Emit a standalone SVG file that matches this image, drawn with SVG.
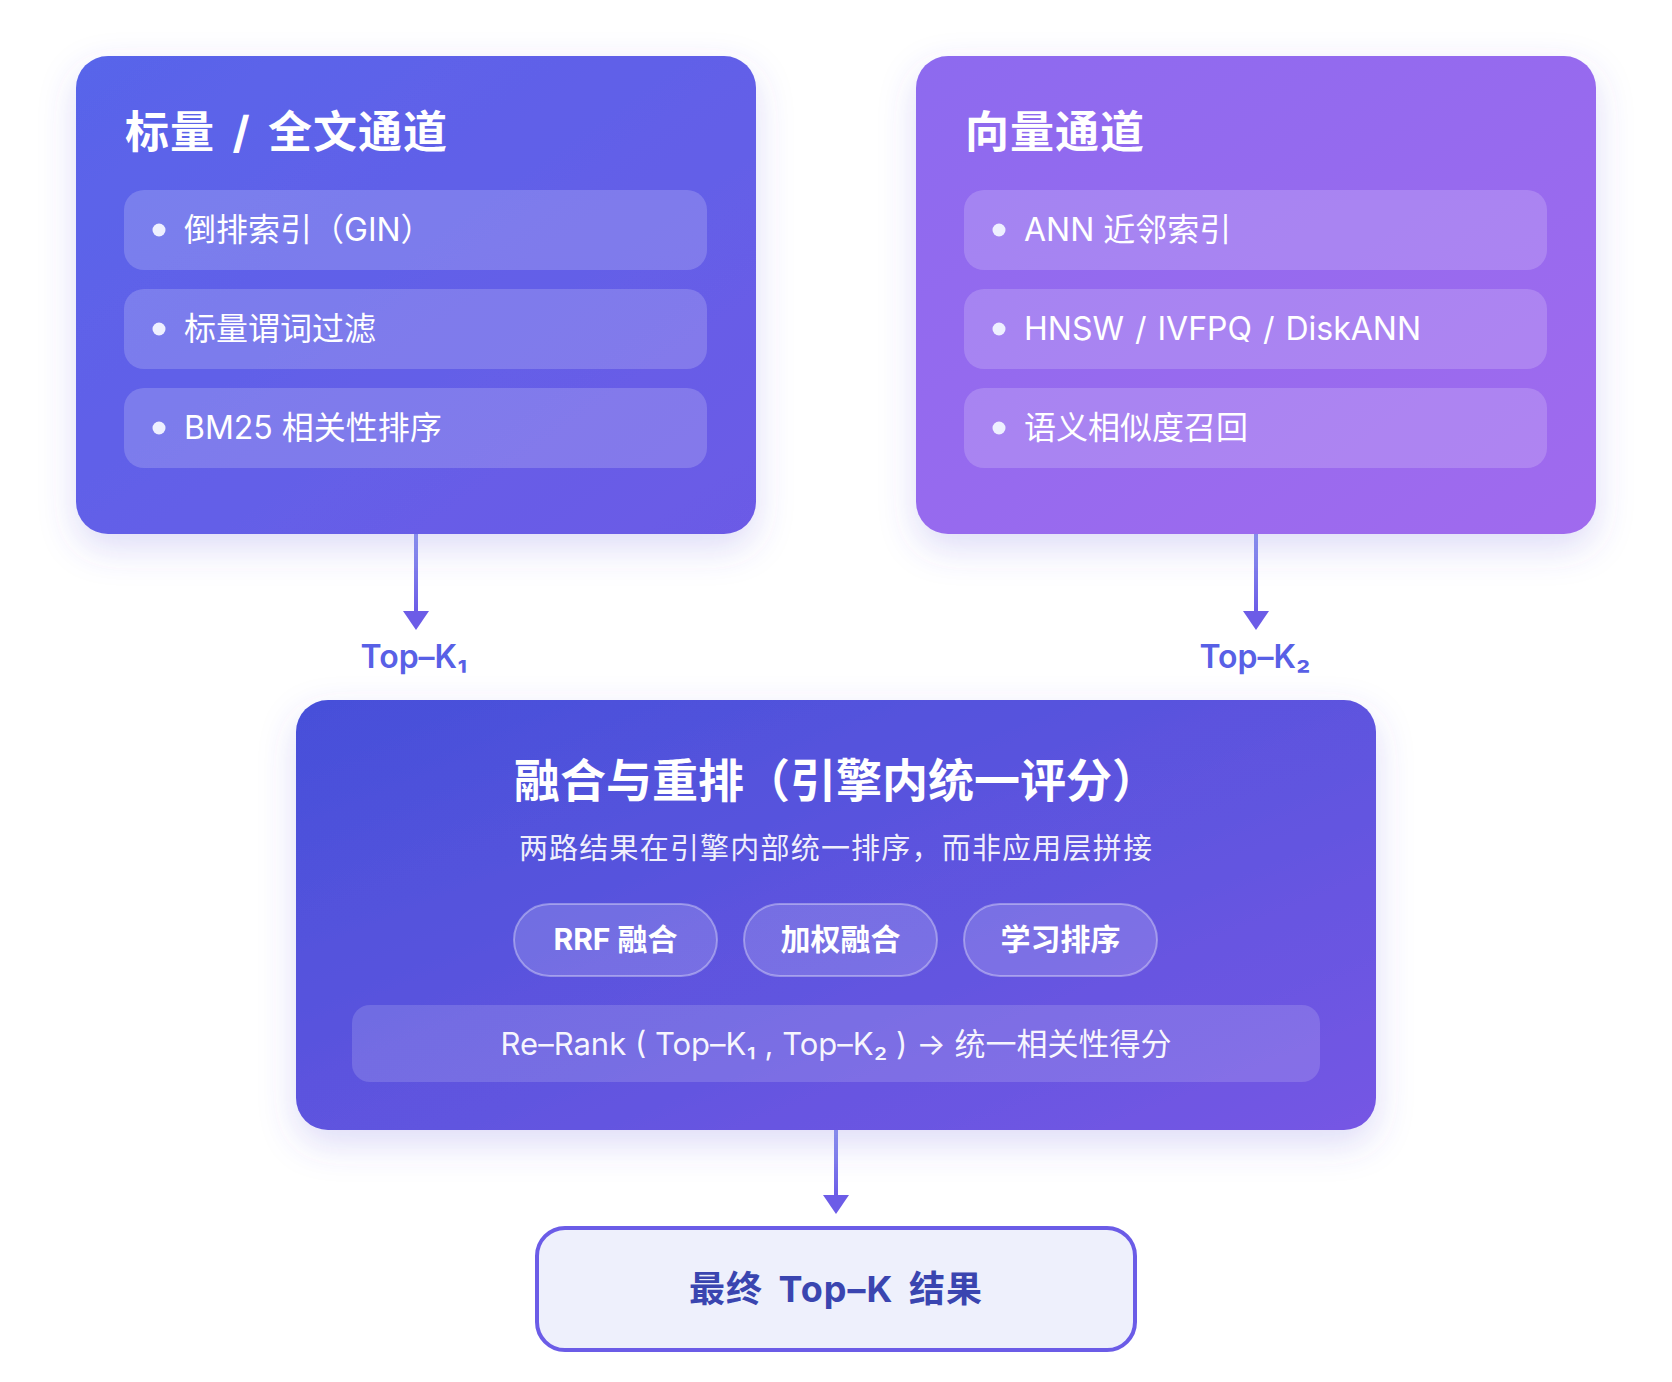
<svg xmlns="http://www.w3.org/2000/svg" width="1672" height="1382" viewBox="0 0 1672 1382">
<style>
text{font-family:"Inter","Noto Sans CJK SC",sans-serif}
.title{font-size:44px;font-weight:700;fill:#fff;letter-spacing:1px}
.item{font-size:32px;fill:#fff}
.row{fill:#fff;fill-opacity:.18}
.dot{fill:#eef0ff}
.topk{font-size:32px;font-weight:600;fill:#5860e6}
.pill{fill:#fff;fill-opacity:.16;stroke:#fff;stroke-opacity:.35;stroke-width:2}
.pilltxt{font-size:30px;font-weight:700;fill:#fff;text-anchor:middle}
.conn{stroke-width:4;fill:none}
</style>
<defs>
<linearGradient id="gL" x1="0" y1="0" x2="1" y2="1"><stop offset="0" stop-color="#5865ea"/><stop offset="1" stop-color="#6c5ae6"/></linearGradient>
<linearGradient id="gR" x1="0" y1="0" x2="1" y2="1"><stop offset="0" stop-color="#8d6bef"/><stop offset="1" stop-color="#a06aee"/></linearGradient>
<linearGradient id="gC" x1="0" y1="0" x2="1" y2="1"><stop offset="0" stop-color="#4650d9"/><stop offset="1" stop-color="#7557e4"/></linearGradient>
<linearGradient id="ln1" gradientUnits="userSpaceOnUse" x1="0" y1="534" x2="0" y2="611"><stop offset="0" stop-color="#8e97ef"/><stop offset="1" stop-color="#6c5ce7"/></linearGradient>
<linearGradient id="ln2" gradientUnits="userSpaceOnUse" x1="0" y1="1130" x2="0" y2="1195"><stop offset="0" stop-color="#8e97ef"/><stop offset="1" stop-color="#6c5ce7"/></linearGradient>
<marker id="arr" markerUnits="userSpaceOnUse" markerWidth="20" markerHeight="26" refX="0" refY="13" orient="auto"><path d="M0,0 L19,13 L0,26 Z" fill="#6c5ce7"/></marker>
<filter id="sh" x="-15%" y="-15%" width="130%" height="140%"><feDropShadow dx="0" dy="14" stdDeviation="18" flood-color="#5b4fd8" flood-opacity="0.2"/></filter>
</defs>
<rect width="1672" height="1382" fill="#ffffff"/>

<g id="connectors">
<path class="conn" d="M416,534 V611" stroke="url(#ln1)" marker-end="url(#arr)"/>
<path class="conn" d="M1256,534 V611" stroke="url(#ln1)" marker-end="url(#arr)"/>
<path class="conn" d="M836,1130 V1195" stroke="url(#ln2)" marker-end="url(#arr)"/>
<text class="topk" x="414" y="668" text-anchor="middle">Top–K₁</text>
<text class="topk" x="1255" y="668" text-anchor="middle">Top–K₂</text>
</g>

<g id="scalar">
<rect x="76" y="56" width="680" height="478" rx="32" fill="url(#gL)" filter="url(#sh)"/>
<text class="title" x="125" y="148" word-spacing="6">标量 / 全文通道</text>
<rect class="row" x="124" y="190" width="583" height="80" rx="20"/>
<circle class="dot" cx="159" cy="230" r="6.5"/>
<text class="item" x="184" y="241">倒排索引（GIN）</text>
<rect class="row" x="124" y="289" width="583" height="80" rx="20"/>
<circle class="dot" cx="159" cy="329" r="6.5"/>
<text class="item" x="184" y="340">标量谓词过滤</text>
<rect class="row" x="124" y="388" width="583" height="80" rx="20"/>
<circle class="dot" cx="159" cy="428" r="6.5"/>
<text class="item" x="184" y="439">BM25 相关性排序</text>
</g>

<g id="vector">
<rect x="916" y="56" width="680" height="478" rx="32" fill="url(#gR)" filter="url(#sh)"/>
<text class="title" x="965" y="148">向量通道</text>
<rect class="row" x="964" y="190" width="583" height="80" rx="20"/>
<circle class="dot" cx="999" cy="230" r="6.5"/>
<text class="item" x="1024" y="241">ANN 近邻索引</text>
<rect class="row" x="964" y="289" width="583" height="80" rx="20"/>
<circle class="dot" cx="999" cy="329" r="6.5"/>
<text class="item" x="1024" y="340" word-spacing="2">HNSW / IVFPQ / DiskANN</text>
<rect class="row" x="964" y="388" width="583" height="80" rx="20"/>
<circle class="dot" cx="999" cy="428" r="6.5"/>
<text class="item" x="1024" y="439">语义相似度召回</text>
</g>

<g id="fusion">
<rect x="296" y="700" width="1080" height="430" rx="32" fill="url(#gC)" filter="url(#sh)"/>
<text x="836" y="797" text-anchor="middle" font-size="46" font-weight="700" fill="#fff">融合与重排（引擎内统一评分）</text>
<text x="836" y="859" text-anchor="middle" font-size="29" fill="#fff" fill-opacity="0.92" letter-spacing="1.2">两路结果在引擎内部统一排序，而非应用层拼接</text>
<rect class="pill" x="514" y="904" width="203" height="72" rx="36"/>
<text class="pilltxt" x="615.5" y="950">RRF 融合</text>
<rect class="pill" x="744" y="904" width="193" height="72" rx="36"/>
<text class="pilltxt" x="840.5" y="950">加权融合</text>
<rect class="pill" x="964" y="904" width="193" height="72" rx="36"/>
<text class="pilltxt" x="1060.5" y="950">学习排序</text>
<rect x="352" y="1005" width="968" height="77" rx="18" fill="#fff" fill-opacity="0.15"/>
<text x="836" y="1055" text-anchor="middle" font-size="31" fill="#fff" fill-opacity="0.95">Re–Rank ( Top–K₁ , Top–K₂ ) → 统一相关性得分</text>
</g>

<g id="result">
<rect x="537" y="1228" width="598" height="122" rx="28" fill="#eef0fc" stroke="#6b5ce7" stroke-width="4"/>
<text x="836" y="1302" text-anchor="middle" font-size="36" font-weight="700" fill="#3a45b0" letter-spacing="1" word-spacing="6">最终 Top–K 结果</text>
</g>
</svg>
